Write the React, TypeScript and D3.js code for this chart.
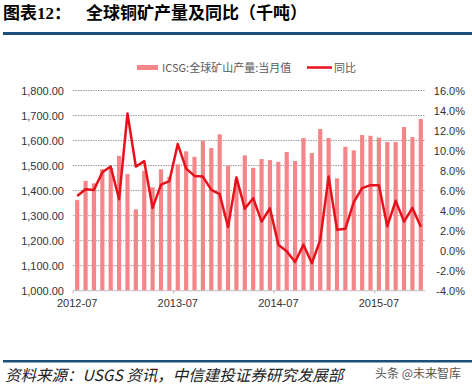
import React from "react";
import * as d3 from "d3";

// ICSG global mine copper output (kt), monthly, 2012-07 .. 2015-12
const months: string[] = d3
  .timeMonth.range(new Date(2012, 6, 1), new Date(2016, 0, 1))
  .map(d3.timeFormat("%Y-%m"));

const output: number[] = [
  1362, 1439, 1429, 1486, 1490, 1539, 1466, 1325, 1479, 1413,
  1485, 1455, 1505, 1557, 1535, 1599, 1570, 1625, 1499, 1445,
  1541, 1491, 1526, 1522, 1515, 1554, 1518, 1610, 1550, 1646,
  1610, 1449, 1575, 1561, 1622, 1619, 1612, 1594, 1594, 1654,
  1614, 1686,
];

// year-on-year, %
const yoy: number[] = [
  5.47, 6.14, 6.07, 7.84, 8.4, 5.14, 13.7, 8.4, 8.94, 4.27,
  6.6, 6.95, 10.65, 8.2, 7.47, 7.4, 6.07, 5.65, 2.37, 7.32,
  4.2, 5.24, 2.9, 4.24, 0.6, -0.05, -1.13, 0.6, -1.26, 1.07,
  7.4, 2.1, 2.2, 4.85, 6.24, 6.54, 6.54, 2.44, 4.98, 2.9,
  4.27, 2.4,
];

const xTickLabels = ["2012-07", "2013-07", "2014-07", "2015-07"];
const leftTicks = [1000, 1100, 1200, 1300, 1400, 1500, 1600, 1700, 1800];
const rightTicks = [-4, -2, 0, 2, 4, 6, 8, 10, 12, 14, 16];

const W = 472;
const H = 390;
const plot = { left: 73, right: 425, top: 90.5, bottom: 290.7 };

const axisFont = "'Liberation Sans', Arial, sans-serif";
const cjkFont = "'Noto Sans CJK SC', sans-serif";

export default function App() {
  const x = d3
    .scaleBand<string>()
    .domain(months)
    .range([plot.left, plot.right])
    .paddingInner(0.5)
    .paddingOuter(0.25);

  const yL = d3.scaleLinear().domain([1000, 1800]).range([plot.bottom, plot.top]);
  const yR = d3.scaleLinear().domain([-4, 16]).range([plot.bottom, plot.top]);

  const step = x.step();
  const edge = (m: string) => (x(m) ?? 0) - (step - x.bandwidth()) / 2;
  const center = (m: string) => (x(m) ?? 0) + x.bandwidth() / 2;

  const line = d3
    .line<number>()
    .x((_, i) => center(months[i]))
    .y((d) => yR(d));

  const fmtL = d3.format(",.2f");
  const fmtR = (v: number) => v.toFixed(1) + "%";

  return (
    <svg
      width={W}
      height={H}
      style={{ position: "absolute", left: 0, top: 0, background: "#fff" }}
    >
      {/* title */}
      <text x={3} y={19} fontSize={17} fontWeight="bold" fill="#000" fontFamily={cjkFont}>
        <tspan>图表</tspan>
        <tspan fontFamily="'Liberation Serif', serif">12</tspan>
        <tspan>：</tspan>
        <tspan x={86}>全球铜矿产量及同比（千吨）</tspan>
      </text>
      <rect x={3} y={32} width={W - 3} height={3} fill="#1b4f7a" />

      {/* legend */}
      <rect x={137} y={65} width={21} height={5} fill="#f4868a" />
      <text x={162} y={71.5} fontSize={11} fill="#595959" fontFamily={cjkFont}>
        ICSG:全球矿山产量:当月值
      </text>
      <line x1={307} x2={332} y1={67.5} y2={67.5} stroke="#e8101a" strokeWidth={2.5} />
      <text x={334} y={71.5} fontSize={11} fill="#595959" fontFamily={cjkFont}>
        同比
      </text>

      {/* grid */}
      {leftTicks.slice(1).map((t) => (
        <line
          key={t}
          x1={plot.left}
          x2={plot.right}
          y1={yL(t)}
          y2={yL(t)}
          stroke="#7f7f7f"
          strokeWidth={0.8}
          strokeDasharray="1.5,1"
        />
      ))}

      {/* bars */}
      {output.map((v, i) => (
        <rect
          key={months[i]}
          x={x(months[i])}
          y={yL(v)}
          width={x.bandwidth()}
          height={yL(1000) - yL(v)}
          fill="#f4868a"
        />
      ))}

      {/* x axis */}
      <line x1={plot.left} x2={plot.right} y1={plot.bottom} y2={plot.bottom} stroke="#bfbfbf" strokeWidth={1} />
      {xTickLabels.map((m) => (
        <g key={m}>
          <line x1={edge(m)} x2={edge(m)} y1={plot.bottom} y2={plot.bottom + 3} stroke="#bfbfbf" />
          <text
            x={center(m)}
            y={307}
            fontSize={11}
            textAnchor="middle"
            fill="#333"
            fontFamily={axisFont}
          >
            {m}
          </text>
        </g>
      ))}

      {/* yoy line */}
      <path d={line(yoy) ?? ""} fill="none" stroke="#e8101a" strokeWidth={2.5} strokeLinejoin="round" />

      {/* left axis labels */}
      {leftTicks.map((t) => (
        <text
          key={t}
          x={64}
          y={yL(t) + 4}
          fontSize={11}
          textAnchor="end"
          fill="#333"
          fontFamily={axisFont}
        >
          {fmtL(t)}
        </text>
      ))}

      {/* right axis labels */}
      {rightTicks.map((t) => (
        <text
          key={t}
          x={465}
          y={yR(t) + 4}
          fontSize={11}
          textAnchor="end"
          fill="#333"
          fontFamily={axisFont}
        >
          {fmtR(t)}
        </text>
      ))}

      {/* footer */}
      <rect x={3} y={360} width={W - 3} height={2.5} fill="#1b4f7a" />
      <text
        x={5}
        y={381}
        fontSize={15.5}
        fontStyle="italic"
        fill="#222"
        fontFamily={cjkFont}
      >
        资料来源：USGS 资讯，中信建投证券研究发展部
      </text>
      <text x={375} y={378} fontSize={12} fill="#555" fontFamily={cjkFont}>
        头条 @未来智库
      </text>
    </svg>
  );
}
